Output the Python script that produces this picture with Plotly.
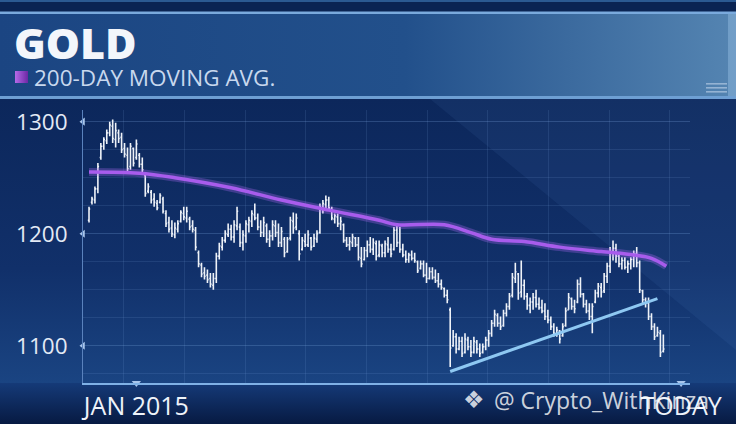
import plotly.graph_objects as go

W, H = 736, 424

# ---------------- data ----------------
highs = [1224,1233,1242,1263,1281,1286,1293,1300,1302,1299,
         1293,1290,1281,1277,1281,1277,1284,1272,1268,1254,
         1245,1239,1236,1230,1236,1233,1221,1215,1212,1210,
         1212,1221,1224,1224,1215,1212,1206,1185,1174,1170,
         1168,1165,1165,1183,1192,1197,1203,1209,1208,1212,
         1224,1209,1203,1212,1215,1221,1227,1218,1212,1215,
         1209,1203,1212,1212,1209,1206,1197,1197,1215,1219,
         1218,1203,1197,1200,1203,1197,1200,1203,1227,1230,
         1234,1233,1224,1218,1218,1215,1209,1197,1197,1200,
         1197,1197,1188,1188,1194,1197,1196,1194,1194,1191,
         1194,1197,1191,1206,1208,1206,1191,1185,1183,1185,
         1183,1176,1176,1176,1174,1170,1170,1168,1165,1159,
         1152,1150,1134,1114,1111,1108,1108,1111,1108,1105,
         1108,1105,1102,1102,1108,1114,1123,1132,1129,1126,
         1132,1138,1147,1165,1174,1165,1176,1159,1147,1143,
         1147,1150,1143,1141,1138,1132,1126,1120,1117,1114,
         1120,1134,1147,1143,1141,1159,1161,1147,1141,1138,
         1138,1150,1156,1156,1165,1174,1188,1194,1191,1183,
         1179,1179,1176,1179,1185,1188,1176,1150,1143,1143,
         1129,1120,1117,1114,1110]
lows = [1210,1226,1227,1236,1266,1275,1280,1287,1281,1277,
        1281,1272,1268,1255,1257,1260,1266,1259,1254,1233,
        1236,1227,1224,1221,1227,1218,1206,1201,1197,1196,
        1201,1210,1212,1210,1203,1201,1185,1170,1161,1159,
        1156,1152,1150,1156,1177,1185,1192,1197,1194,1192,
        1203,1188,1185,1192,1201,1206,1212,1203,1197,1197,
        1192,1188,1194,1197,1188,1188,1179,1183,1194,1200,
        1203,1176,1185,1188,1188,1185,1188,1192,1200,1218,
        1221,1221,1212,1209,1206,1203,1192,1188,1185,1188,
        1188,1176,1170,1176,1179,1183,1181,1176,1179,1179,
        1179,1183,1179,1185,1188,1183,1179,1174,1174,1176,
        1174,1165,1168,1161,1156,1159,1159,1156,1152,1150,
        1143,1138,1081,1099,1093,1096,1090,1093,1096,1090,
        1093,1093,1090,1093,1096,1099,1108,1117,1117,1114,
        1117,1126,1132,1143,1156,1141,1143,1141,1132,1129,
        1132,1134,1132,1129,1123,1120,1114,1108,1108,1102,
        1108,1117,1132,1132,1129,1138,1143,1134,1129,1123,
        1111,1138,1143,1143,1147,1156,1165,1176,1174,1170,
        1168,1168,1165,1168,1170,1170,1147,1138,1134,1123,
        1114,1105,1108,1090,1094]
opens = [1212,1228,1230,1240,1268,1278,1283,1290,1296,1284,
         1290,1286,1276,1270,1260,1276,1268,1270,1262,1252,
         1238,1237,1231,1227,1228,1231,1218,1210,1205,1199,
         1204,1211,1218,1214,1213,1207,1203,1183,1172,1165,
         1163,1160,1154,1160,1180,1188,1194,1199,1204,1197,
         1207,1206,1192,1198,1208,1211,1217,1214,1206,1201,
         1207,1195,1198,1207,1201,1192,1195,1184,1196,1211,
         1206,1200,1186,1193,1190,1196,1189,1195,1201,1222,
         1226,1230,1222,1213,1215,1209,1208,1194,1190,1192,
         1196,1190,1178,1177,1185,1190,1186,1191,1181,1189,
         1183,1190,1186,1186,1203,1192,1186,1181,1177,1181,
         1178,1175,1169,1173,1163,1160,1166,1161,1158,1155,
         1151,1145,1132,1100,1108,1097,1104,1094,1105,1099,
         1094,1103,1097,1094,1099,1105,1111,1120,1127,1120,
         1118,1129,1135,1145,1160,1164,1148,1154,1144,1136,
         1139,1143,1137,1134,1131,1126,1123,1117,1111,1113,
         1109,1118,1132,1142,1135,1139,1155,1146,1137,1131,
         1126,1139,1147,1152,1149,1162,1171,1184,1187,1180,
         1173,1176,1170,1173,1177,1182,1174,1149,1141,1138,
         1126,1117,1109,1111,1095]
closes = [1222,1231,1240,1260,1278,1284,1290,1297,1285,1292,
          1285,1275,1271,1258,1278,1263,1280,1262,1257,1236,
          1242,1230,1228,1223,1234,1220,1209,1204,1200,1205,
          1209,1219,1215,1220,1206,1204,1188,1173,1164,1162,
          1159,1155,1160,1180,1189,1194,1200,1204,1197,1208,
          1220,1192,1199,1209,1212,1218,1214,1206,1201,1210,
          1195,1198,1208,1201,1192,1202,1183,1195,1212,1205,
          1214,1182,1194,1190,1199,1188,1196,1200,1224,1227,
          1230,1223,1214,1216,1209,1211,1194,1190,1193,1197,
          1190,1179,1173,1185,1190,1186,1192,1180,1190,1183,
          1191,1186,1182,1203,1192,1186,1181,1177,1181,1178,
          1176,1167,1173,1163,1160,1166,1161,1158,1155,1152,
          1145,1141,1098,1108,1097,1104,1093,1106,1099,1094,
          1104,1097,1093,1099,1105,1111,1120,1128,1120,1117,
          1129,1135,1144,1161,1166,1147,1154,1144,1136,1139,
          1143,1137,1134,1131,1126,1123,1117,1111,1114,1106,
          1117,1131,1143,1135,1133,1155,1146,1137,1131,1126,
          1135,1147,1153,1148,1162,1171,1184,1187,1180,1173,
          1176,1170,1173,1177,1182,1174,1150,1141,1138,1126,
          1117,1108,1112,1094,1097]
bar_idx = list(range(len(closes)))

ma_idx = [0, 17, 29, 48, 65, 81, 98, 104, 120, 129, 136, 147, 159, 173, 184, 190, 195]
ma_vals = [1255, 1254, 1250, 1241, 1230, 1221, 1212, 1208, 1208, 1201, 1195, 1193,
           1188, 1184, 1181, 1178, 1171]

trend_idx = [122, 192]
trend_vals = [1077, 1142]

y_ticks = [1100, 1200, 1300]
y_tick_text = ["1100", "1200", "1300"]
x_tick_idx = [16, 200]
x_tick_text = ["JAN 2015", "TODAY"]

title_text = "GOLD"
legend_text = "200-DAY MOVING AVG."
watermark_text = "@ Crypto_WithKinza"

FONT = "Open Sans"
X_RANGE = [-2.03, 203]
Y_RANGE = [1066.7, 1310.4]

fig = go.Figure()


def px(x):
    return x / W


def py(y):
    return 1 - y / H


def bg_poly(xs, ys, color=None, grad=None):
    tr = go.Scatter(x=xs, y=ys, mode="lines", line=dict(width=0), fill="toself",
                    hoverinfo="skip", showlegend=False, xaxis="x", yaxis="y")
    if grad is not None:
        tr.fillgradient = grad
    else:
        tr.fillcolor = color
    fig.add_trace(tr)


def bg_rect(x0, y0, x1, y1, color=None, grad=None):
    bg_poly([x0, x1, x1, x0, x0], [y0, y0, y1, y1, y0], color=color, grad=grad)


# ---------------- background decoration (pixel space) ----------------
bg_rect(0, 0, W, H, color="#0b2556")
bg_rect(0, 0, W, 12, color="#0a2453")
bg_rect(0, 0, W, 2, color="#2b5a92")
bg_rect(0, 14, W, 96, grad=dict(type="horizontal", start=0, stop=W,
                                colorscale=[[0, "#1b4582"], [0.55, "#22508b"], [1, "#5585b2"]]))
bg_rect(0, 11.5, W, 14, color="#7aaadd")
bg_rect(0, 96, W, 99, color="#6e9fd3")
bg_rect(0, 99, W, 383, grad=dict(type="vertical", start=99, stop=383,
                                 colorscale=[[0, "#0c275b"], [0.6, "#11306a"], [1, "#1a4482"]]))
bg_poly([430, W, W, 430], [99, 99, 350, 99], color="rgba(120,170,235,0.07)")
bg_rect(0, 383, W, H, grad=dict(type="vertical", start=383, stop=H,
                                colorscale=[[0, "#153a78"], [1, "#071a42"]]))
bg_rect(728, 14, W, 96, color="rgba(170,205,240,0.35)")
for yy in (83, 87, 91):
    bg_rect(706, yy, 727, yy + 1.6, color="rgba(230,240,255,0.45)")
# legend swatch
bg_rect(15, 71, 28, 83, grad=dict(type="horizontal", start=15, stop=28,
                                  colorscale=[[0, "#b56ae8"], [1, "#6c28a4"]]))

# ---------------- chart ----------------
fig.add_trace(go.Ohlc(
    x=bar_idx, open=opens, high=highs, low=lows, close=closes,
    increasing=dict(line=dict(color="#eef2f8", width=1.6)),
    decreasing=dict(line=dict(color="#eef2f8", width=1.6)),
    tickwidth=0.4, hoverinfo="skip", showlegend=False, xaxis="x2", yaxis="y2"))

fig.add_trace(go.Scatter(x=ma_idx, y=ma_vals, mode="lines",
                         line=dict(color="rgba(175,105,245,0.3)", width=8, shape="spline"),
                         hoverinfo="skip", showlegend=False, xaxis="x2", yaxis="y2"))
fig.add_trace(go.Scatter(x=ma_idx, y=ma_vals, mode="lines",
                         line=dict(color="#a85cec", width=3.5, shape="spline"),
                         hoverinfo="skip", showlegend=False, xaxis="x2", yaxis="y2"))
fig.add_trace(go.Scatter(x=trend_idx, y=trend_vals, mode="lines",
                         line=dict(color="#8ec8f2", width=3),
                         hoverinfo="skip", showlegend=False, xaxis="x2", yaxis="y2"))

# tick pointer triangles (markers placed on the axes)
fig.add_trace(go.Scatter(x=x_tick_idx, y=[Y_RANGE[0]] * len(x_tick_idx), mode="markers",
                         marker=dict(symbol="triangle-down", size=8, color="#a9c6ec"),
                         cliponaxis=False, hoverinfo="skip", showlegend=False,
                         xaxis="x2", yaxis="y2"))
fig.add_trace(go.Scatter(x=[X_RANGE[0]] * len(y_ticks), y=y_ticks, mode="markers",
                         marker=dict(symbol="triangle-left", size=7, color="#a9c6ec"),
                         cliponaxis=False, hoverinfo="skip", showlegend=False,
                         xaxis="x2", yaxis="y2"))

grid_c = "rgba(130,170,230,0.14)"

annotations = [
    dict(x=px(12), y=py(43), xref="paper", yref="paper", xanchor="left", yanchor="middle",
         text=title_text, showarrow=False,
         font=dict(family=FONT, size=43, color="#f3f6fb", weight=800)),
    dict(x=px(32), y=py(77), xref="paper", yref="paper", xanchor="left", yanchor="middle",
         text=legend_text, showarrow=False,
         font=dict(family=FONT, size=22.5, color="#c8d8ee")),
    dict(x=px(474), y=py(400), xref="paper", yref="paper", xanchor="center", yanchor="middle",
         text="❖", showarrow=False,
         font=dict(family="DejaVu Sans", size=24, color="rgba(255,255,255,0.8)")),
    dict(x=px(492), y=py(400), xref="paper", yref="paper", xanchor="left", yanchor="middle",
         text=watermark_text, showarrow=False,
         font=dict(family=FONT, size=23, color="rgba(255,255,255,0.8)")),
]

fig.update_layout(
    width=W, height=H, autosize=False, margin=dict(l=0, r=0, t=0, b=0, pad=0, autoexpand=False),
    paper_bgcolor="#0b2556", plot_bgcolor="rgba(0,0,0,0)",
    showlegend=False, hovermode=False,
    xaxis=dict(domain=[0, 1], range=[0, W], visible=False, fixedrange=True),
    yaxis=dict(domain=[0, 1], range=[H, 0], visible=False, fixedrange=True),
    xaxis2=dict(domain=[px(83), px(690)], range=X_RANGE, anchor="y2",
                showline=True, linecolor="#7fb1e6", linewidth=2, zeroline=False,
                tickmode="array", tickvals=x_tick_idx, ticktext=x_tick_text, ticks="",
                tickfont=dict(family=FONT, size=25, color="#eef3fa"), ticklabelstandoff=0,
                showgrid=False,
                minor=dict(dtick=20.5, tick0=175.7, showgrid=True, gridcolor=grid_c, gridwidth=1),
                rangeslider=dict(visible=False), fixedrange=True),
    yaxis2=dict(domain=[py(383), py(110)], range=Y_RANGE, anchor="x2",
                showline=True, linecolor="#5a82bd", linewidth=1, zeroline=False,
                tickmode="array", tickvals=y_ticks, ticktext=y_tick_text, ticks="",
                tickfont=dict(family=FONT, size=22.5, color="#e3eaf5"), ticklabelstandoff=10,
                showgrid=True, gridcolor=grid_c,
                minor=dict(dtick=25, tick0=1100, showgrid=True, gridcolor=grid_c, gridwidth=1),
                fixedrange=True),
    annotations=annotations,
)

fig.write_html("out.html", config={"responsive": False, "displayModeBar": False},
               post_script="document.body.style.margin='0';document.body.style.overflow='hidden';")
